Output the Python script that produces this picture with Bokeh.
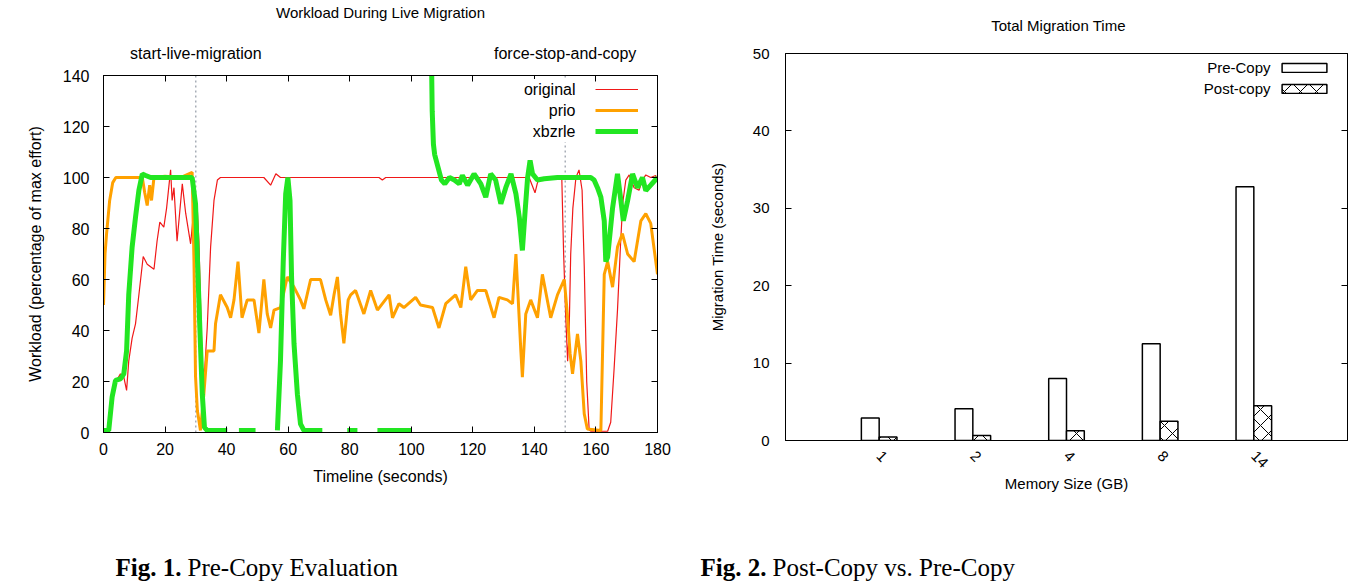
import math
import numpy as np
from bokeh.plotting import figure
from bokeh.models import (Range1d, FactorRange, LinearAxis, FixedTicker, Label, LabelSet,
                          ColumnDataSource, Legend, LegendItem)
from bokeh.transform import dodge
from bokeh.layouts import row, column
from bokeh.embed import file_html
from bokeh.resources import INLINE
from bokeh.core.properties import value

# ---------------- Fig. 1: workload during live migration ----------------
# (time in seconds, workload in % of max effort)
original_pts = [
    (3.3, 20), (4.5, 21), (5.5, 23), (6.6, 21.7), (7.5, 16.5), (8.2, 28), (9.3, 37),
    (10.4, 42.6), (11.5, 54), (12.9, 69), (14.2, 66), (16.4, 64), (17.4, 75), (18.3, 82.5),
    (19.6, 80.5), (20.5, 88), (21.8, 103), (22.3, 91), (22.9, 96), (23.9, 75), (25.6, 97.5),
    (26.7, 86), (28.3, 74), (29.4, 88), (30.5, 87), (31.0, 75), (32.1, 25.6), (32.8, 23),
    (33.7, 41), (34.8, 72.7), (35.9, 91), (37.0, 99), (38.0, 100), (52.1, 100), (54.3, 97),
    (56.0, 101.5), (57.5, 100), (89.5, 100), (90.6, 99), (91.7, 100), (138.3, 100),
    (140.2, 94), (141.3, 99.5), (148.9, 100), (149.5, 70), (150.2, 45), (150.8, 28),
    (151.3, 40), (151.8, 70), (152.5, 88), (153.5, 100), (154.5, 103), (155.5, 95),
    (156.2, 65), (157.0, 20), (157.8, 1), (158.4, 0.5), (163.8, 0.5), (164.8, 4),
    (165.9, 25), (167.0, 48), (168.0, 74), (168.7, 90), (169.7, 99), (170.8, 101),
    (172.4, 96), (174.0, 95), (175.1, 99), (176.2, 101), (177.8, 100), (179.4, 100.8),
    (180.0, 99),
]
prio_pts = [
    (0, 50), (0.5, 70), (1, 78), (2, 91), (3, 98), (4, 100), (12.6, 100), (13.4, 94),
    (14.2, 89), (15.0, 97), (15.6, 91), (16.4, 100), (20, 100.5), (25, 100), (28.8, 102),
    (29.4, 67), (29.9, 22), (30.5, 8.6), (31.5, 0.8), (32.6, 15), (33.7, 32), (35.9, 32),
    (36.4, 42.6), (38, 54), (40.2, 49), (41.3, 45), (42.4, 52), (43.7, 67), (45, 45),
    (46.7, 52), (48.9, 52), (50.5, 39), (52.1, 60), (53.2, 46.5), (54.3, 41), (55.4, 48),
    (57.5, 49), (59.7, 61), (61.9, 57), (64, 52), (65.1, 48.5), (67.3, 60), (70.5, 60),
    (72.2, 52), (73.8, 46), (74.9, 54), (76, 61), (77, 46.5), (78.1, 35), (79.5, 52),
    (80.3, 54), (81.9, 55.7), (84.6, 46.5), (86.8, 55.7), (89, 48), (92.8, 54), (93.9, 45),
    (96, 50.5), (97.6, 49), (101.4, 53), (103, 50), (106.9, 49), (109, 41), (111.2, 50.5),
    (114.4, 54), (116.1, 49), (117.7, 65), (119.3, 52), (121.5, 55.7), (124.2, 55.7),
    (126.9, 45), (128.5, 53), (131.2, 52), (132.9, 50.5), (134, 70), (135.6, 32),
    (136.1, 21.7), (137.2, 46.5), (138.8, 52), (141, 45), (142.6, 62), (145.3, 45),
    (147.5, 54), (149.7, 60), (150.7, 46.5), (151.6, 31), (152.4, 23), (154, 38.7),
    (155.1, 28), (156.2, 7.3), (157.2, 1.4), (161.6, 0.8), (162.7, 62), (163.8, 67),
    (165.4, 57), (167, 72.7), (168.6, 78), (170.3, 70), (172.4, 67), (174.6, 83),
    (176.2, 85.8), (177.8, 82), (180, 62),
]
# None marks seconds with no sample (the line is broken there)
xbzrle_pts = [
    (0, 0.8), (1.7, 0.8), (2.8, 13.9), (3.9, 20.4), (5.5, 21), (6.6, 23), (7.5, 32),
    (8.2, 54), (9.3, 72.7), (10.4, 84.4), (11.5, 95), (12.6, 101.4), (13.7, 100.8),
    (15.3, 100), (28.8, 100), (29.9, 89.7), (30.5, 68.8), (31.3, 41), (32.1, 15),
    (32.8, 2), (33.7, 0.8), (40.2, 0.8), (42, None),
    (44, 0.8), (49.4, 0.8), (53, None),
    (56.5, 0.8), (57.5, 28), (58.4, 67), (59.2, 93.6), (59.9, 100), (60.6, 91), (61.1, 61),
    (61.9, 34.8), (63, 15), (64, 3.4), (65.1, 0.8), (71.1, 0.8), (75, None),
    (79.2, 0.8), (82.5, 0.8), (85, None),
    (89, 0.8), (100, 0.8), (103, None),
    (106.3, 170), (106.8, 126), (107.2, 113), (107.6, 109), (108.7, 104), (109.8, 99),
    (110.9, 97.5), (112.4, 100), (114, 99), (115.6, 97.5), (116.6, 100.8), (118.3, 97),
    (120.4, 101.4), (122.6, 97.5), (124.2, 92.3), (125.8, 101.4), (127.4, 99), (129.1, 89.7),
    (130.7, 96), (132.4, 101.4), (134, 93.6), (135.1, 84.4), (136.1, 71.4), (137, 87),
    (137.8, 100), (138.6, 106.7), (139.4, 101.4), (141, 99), (143.2, 99.5), (147.5, 100),
    (158.3, 100), (159.4, 99), (160.5, 96), (161.6, 92.3), (162.7, 83), (163.2, 67),
    (163.8, 68.8), (165.4, 88), (167, 101.4), (168.1, 91), (168.9, 83), (170.3, 91),
    (171.9, 101.4), (173.5, 96), (175.1, 100), (176.2, 94.9), (177.8, 97), (180, 100),
]
event_times = [30, 150]
event_names = ["start-live-migration", "force-stop-and-copy"]
x_ticks_1 = list(range(0, 181, 20))
y_ticks_1 = list(range(0, 141, 20))

# ---------------- Fig. 2: total migration time ----------------
memory_sizes = ["1", "2", "4", "8", "14"]
precopy_time = [2.9, 4.1, 8.0, 12.5, 32.8]
postcopy_time = [0.45, 0.65, 1.25, 2.5, 4.5]
y_ticks_2 = list(range(0, 51, 10))

SANS = "Liberation Sans"
SERIF = "Liberation Serif"
RED, ORANGE, GREEN = "#f01818", "#ffa100", "#22e622"
PAGE_W, PAGE_H, FOOT_H = 1363, 582, 72


def series(pts):
    t = [p[0] for p in pts]
    v = [np.nan if p[1] is None else p[1] for p in pts]
    return dict(t=t, v=v)


def style_axis(ax, size="16px"):
    ax.axis_line_color = "black"
    ax.major_tick_line_color = "black"
    ax.major_tick_in = 6
    ax.major_tick_out = 0
    ax.minor_tick_line_color = None
    ax.major_label_text_font = SANS
    ax.major_label_text_font_size = size
    ax.major_label_text_color = "black"
    ax.axis_label_text_font = SANS
    ax.axis_label_text_font_size = size
    ax.axis_label_text_font_style = "normal"
    ax.axis_label_text_color = "black"


def mirror_axis(ticks):
    # tick marks only, on the opposite side of the frame
    ax = LinearAxis(ticker=FixedTicker(ticks=ticks),
                    major_label_overrides={t: "" for t in ticks})
    style_axis(ax)
    ax.major_label_text_font_size = "0px"
    ax.major_label_standoff = 0
    return ax


def text(p, txt, x, y, size="16px", font=SANS, align="center", baseline="alphabetic",
         style="normal", bg=None):
    lab = Label(x=x, y=y, x_units="screen", y_units="screen", text=txt,
                text_font=font, text_font_size=size, text_align=align,
                text_baseline=baseline, text_font_style=style, text_color="black")
    if bg is not None:
        lab.background_fill_color = bg
        lab.padding = 2
    p.add_layout(lab)
    return lab


def strip(width, height, x_range=None):
    # plain text band above or below a chart
    f = figure(width=width, height=height, min_border=0, title=None,
               x_range=x_range if x_range is not None else Range1d(0, width),
               y_range=Range1d(0, height), x_axis_location=None, y_axis_location=None,
               output_backend="svg", toolbar_location=None)
    f.grid.visible = False
    f.outline_line_color = None
    f.background_fill_color = "white"
    f.border_fill_color = "white"
    return f


# ---------- left chart ----------
W1, L1, FW1, FH1 = 700, 103, 554, 357
HEAD1, TOP1, BOT1 = 63, 12, 78

p1 = figure(frame_width=FW1, frame_height=FH1, min_border_left=L1, title=None,
            min_border_right=W1 - L1 - FW1, min_border_top=TOP1, min_border_bottom=BOT1,
            x_range=Range1d(0, 180), y_range=Range1d(0, 140),
            output_backend="svg", toolbar_location=None)
p1.grid.visible = False
p1.outline_line_color = "black"
p1.background_fill_color = "white"
p1.border_fill_color = "white"
for ax in p1.xaxis:
    ax.ticker = FixedTicker(ticks=x_ticks_1)
    ax.axis_label = "Timeline (seconds)"
    style_axis(ax)
    ax.major_label_standoff = 10
    ax.axis_label_standoff = 10
for ax in p1.yaxis:
    ax.ticker = FixedTicker(ticks=y_ticks_1)
    ax.axis_label = "Workload (percentage of max effort)"
    style_axis(ax)
    ax.major_label_standoff = 14
    ax.axis_label_standoff = 16
p1.add_layout(mirror_axis(x_ticks_1), "above")
p1.add_layout(mirror_axis(y_ticks_1), "right")

events = ColumnDataSource(dict(t=event_times, name=event_names))
p1.segment(x0="t", y0=p1.y_range.start, x1="t", y1=p1.y_range.end, source=events,
           line_color="#7d8592", line_dash="2 3", line_width=1)

r_orig = p1.line("t", "v", source=ColumnDataSource(series(original_pts)),
                 line_color=RED, line_width=1.2)
r_prio = p1.line("t", "v", source=ColumnDataSource(series(prio_pts)),
                 line_color=ORANGE, line_width=3)
r_xbz = p1.line("t", "v", source=ColumnDataSource(series(xbzrle_pts)),
                line_color=GREEN, line_width=5)

# key: names right-aligned, line samples to their right
names_1 = ["original", "prio", "xbzrle"]
row_pitch = 21
for i, nm in enumerate(names_1):
    text(p1, nm, 474, 343 - i * row_pitch, baseline="middle", align="right", bg="white")
leg1 = Legend(items=[LegendItem(label=value(""), renderers=[r]) for r in (r_orig, r_prio, r_xbz)],
              location=(492, 292), glyph_width=43, glyph_height=18, label_height=18,
              label_width=0, label_standoff=0, spacing=3, padding=0, margin=0,
              border_line_color=None, background_fill_alpha=0, label_text_font_size="1px")
p1.add_layout(leg1)

# header band (its frame lines up with the chart frame): title and event names
h1 = strip(W1, HEAD1, p1.x_range)
text(h1, "Workload During Live Migration", FW1 / 2, HEAD1 - 12, size="15px")
h1.add_layout(LabelSet(x="t", y=5, y_units="screen", text="name", source=events,
                       text_font=value(SANS), text_font_size="16px", text_align="center",
                       text_baseline="alphabetic", text_color="black"))

# ---------- right chart ----------
W2, L2, FW2, FH2 = 663, 85, 562, 387
HEAD2, TOP2 = 41, 12
BOT2 = HEAD1 + TOP1 + FH1 + BOT1 - HEAD2 - TOP2 - FH2

p2 = figure(frame_width=FW2, frame_height=FH2, min_border_left=L2, title=None,
            min_border_right=W2 - L2 - FW2, min_border_top=TOP2, min_border_bottom=BOT2,
            x_range=FactorRange(factors=memory_sizes, range_padding=0.5,
                                range_padding_units="absolute"),
            y_range=Range1d(0, 50),
            output_backend="svg", toolbar_location=None)
p2.grid.visible = False
p2.outline_line_color = "black"
p2.background_fill_color = "white"
p2.border_fill_color = "white"
for ax in p2.xaxis:
    ax.axis_label = "Memory Size (GB)"
    style_axis(ax, "15px")
    ax.major_tick_line_color = None
    ax.major_label_orientation = -math.pi / 4
    ax.major_label_standoff = 13
    ax.axis_label_standoff = 0
for ax in p2.yaxis:
    ax.ticker = FixedTicker(ticks=y_ticks_2)
    ax.axis_label = "Migration Time (seconds)"
    style_axis(ax, "15px")
    ax.major_label_standoff = 16
    ax.axis_label_standoff = 24
p2.add_layout(mirror_axis(y_ticks_2), "right")

bars = ColumnDataSource(dict(mem=memory_sizes, pre=precopy_time, post=postcopy_time))
r_pre = p2.vbar(x=dodge("mem", -0.095, range=p2.x_range), top="pre", width=0.19, source=bars,
                fill_color="white", line_color="black", line_width=1.5)
r_post = p2.vbar(x=dodge("mem", 0.095, range=p2.x_range), top="post", width=0.19, source=bars,
                 fill_color="white", line_color="black", line_width=1.5,
                 hatch_pattern="diagonal_cross", hatch_color="black", hatch_scale=16,
                 hatch_weight=1)

for i, nm in enumerate(["Pre-Copy", "Post-copy"]):
    text(p2, nm, 485, 373 - i * row_pitch, size="15px", baseline="middle", align="right")
leg2 = Legend(items=[LegendItem(label=value(""), renderers=[r]) for r in (r_pre, r_post)],
              location=(491, 346), glyph_width=56, glyph_height=11, label_height=11,
              label_width=0, label_standoff=0, spacing=10, padding=0, margin=0,
              border_line_color=None, background_fill_alpha=0, label_text_font_size="1px")
p2.add_layout(leg2)

h2 = strip(W2, HEAD2)
text(h2, "Total Migration Time", 273, HEAD2 - 25, size="15px")

# ---------- captions under both charts ----------
foot = strip(PAGE_W, FOOT_H)
cap_y = 15
text(foot, "Fig. 1.", 115, cap_y, size="25px", font=SERIF, align="left", style="bold")
text(foot, "Pre-Copy Evaluation", 187, cap_y, size="25px", font=SERIF, align="left")
text(foot, "Fig. 2.", 700, cap_y, size="25px", font=SERIF, align="left", style="bold")
text(foot, "Post-Copy vs. Pre-Copy", 772, cap_y, size="25px", font=SERIF, align="left")

charts = row(column(h1, p1, spacing=0), column(h2, p2, spacing=0), spacing=0)
layout = column(charts, foot, spacing=0)
open("out.html", "w").write(file_html(layout, INLINE))
